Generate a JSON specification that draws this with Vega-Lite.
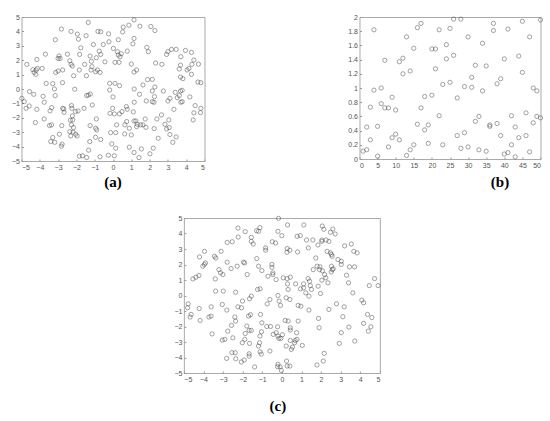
{
  "$schema": "https://vega.github.io/schema/vega-lite/v6.json",
  "background": "white",
  "padding": {"left": 11, "top": 12, "right": 5, "bottom": 5},
  "config": {
    "view": {"stroke": "#aaaaaa", "strokeWidth": 1},
    "axis": {"grid": false, "domain": false, "tickColor": "#999999", "tickSize": -2, "labelPadding": 4, "labelFont": "Liberation Sans", "labelFontSize": 7, "labelColor": "#555555", "title": null},
    "point": {"shape": "circle", "filled": false, "size": 18, "strokeWidth": 0.7, "color": "#444444"},
    "title": {"font": "Liberation Serif", "fontSize": 15, "fontWeight": "bold", "color": "#000000", "orient": "bottom", "frame": "group", "anchor": "middle"}
  },
  "datasets": {
    "a": [
      {"x": -1.35, "y": 4.62}, {"x": 1.15, "y": 4.80}, {"x": 1.47, "y": 4.36}, {"x": 2.07, "y": 4.34}, {"x": 2.29, "y": 4.06},
      {"x": 0.56, "y": 4.30}, {"x": 0.87, "y": 4.43}, {"x": 0.53, "y": 3.97}, {"x": -2.82, "y": 4.16}, {"x": -2.29, "y": 4.00},
      {"x": -1.95, "y": 3.81}, {"x": -1.89, "y": 3.46}, {"x": -1.47, "y": 3.70}, {"x": -0.82, "y": 4.00}, {"x": -0.67, "y": 3.97},
      {"x": -0.24, "y": 3.83}, {"x": -3.15, "y": 3.42}, {"x": -1.07, "y": 3.09}, {"x": -0.53, "y": 3.09}, {"x": -0.22, "y": 3.28},
      {"x": 0.29, "y": 3.42}, {"x": 1.15, "y": 3.51}, {"x": 1.09, "y": 3.14}, {"x": 0.78, "y": 2.63}, {"x": 1.85, "y": 2.89},
      {"x": 1.93, "y": 2.59}, {"x": 0.02, "y": 2.82}, {"x": -0.75, "y": 2.63}, {"x": -1.25, "y": 2.29}, {"x": -1.76, "y": 2.86},
      {"x": -1.82, "y": 2.40}, {"x": -2.49, "y": 2.42}, {"x": -3.69, "y": 2.42}, {"x": -4.16, "y": 2.05}, {"x": -2.95, "y": 2.29},
      {"x": -3.00, "y": 2.12}, {"x": -2.89, "y": 2.12}, {"x": -2.36, "y": 1.96}, {"x": -2.29, "y": 1.71}, {"x": -2.22, "y": 1.59},
      {"x": -1.55, "y": 1.71}, {"x": -1.18, "y": 1.92}, {"x": -1.15, "y": 1.55}, {"x": -1.20, "y": 1.32}, {"x": -0.91, "y": 2.17},
      {"x": -0.67, "y": 2.40}, {"x": -0.44, "y": 1.89}, {"x": 0.24, "y": 2.59}, {"x": 0.29, "y": 2.36}, {"x": 0.45, "y": 2.45},
      {"x": 0.38, "y": 2.24}, {"x": 0.11, "y": 1.85}, {"x": 0.33, "y": 1.85}, {"x": 1.00, "y": 1.73}, {"x": 1.15, "y": 1.18},
      {"x": 1.29, "y": 1.32}, {"x": 2.33, "y": 1.80}, {"x": 2.93, "y": 2.40}, {"x": 3.00, "y": 2.59}, {"x": 3.20, "y": 2.75},
      {"x": 3.45, "y": 2.75}, {"x": 3.96, "y": 2.68}, {"x": 4.29, "y": 2.54}, {"x": 3.71, "y": 2.24}, {"x": 3.69, "y": 1.66},
      {"x": 3.62, "y": 1.39}, {"x": 4.05, "y": 1.32}, {"x": 4.15, "y": 1.43}, {"x": 4.31, "y": 1.71}, {"x": 4.42, "y": 2.01},
      {"x": 4.67, "y": 1.73}, {"x": 2.67, "y": 1.71}, {"x": -4.71, "y": 1.71}, {"x": -4.38, "y": 1.34}, {"x": -4.31, "y": 1.15},
      {"x": -4.20, "y": 1.32}, {"x": -4.13, "y": 1.43}, {"x": -4.22, "y": 1.02}, {"x": -3.87, "y": 1.43}, {"x": -3.13, "y": 1.15},
      {"x": -3.00, "y": 1.25}, {"x": -2.75, "y": 1.32}, {"x": -1.84, "y": 1.32}, {"x": -2.15, "y": 0.92}, {"x": -1.45, "y": 0.92},
      {"x": -0.95, "y": 1.20}, {"x": -0.85, "y": 1.32}, {"x": -0.71, "y": 1.15}, {"x": 4.29, "y": 1.02}, {"x": 3.69, "y": 0.83},
      {"x": 3.82, "y": 0.72}, {"x": 4.64, "y": 0.48}, {"x": 4.80, "y": 0.44}, {"x": -3.65, "y": 0.39}, {"x": -3.29, "y": 0.37},
      {"x": -2.76, "y": 0.44}, {"x": -3.20, "y": 0.00}, {"x": -3.16, "y": -0.46}, {"x": -3.82, "y": -0.51}, {"x": -3.76, "y": -0.92},
      {"x": -4.56, "y": -0.18}, {"x": -4.33, "y": -0.37}, {"x": -4.98, "y": -0.65}, {"x": -4.85, "y": -0.88}, {"x": -4.75, "y": -1.34},
      {"x": -4.58, "y": -1.18}, {"x": -4.16, "y": -1.41}, {"x": -2.09, "y": -0.02}, {"x": -1.35, "y": -0.42}, {"x": -1.44, "y": -0.46},
      {"x": -1.24, "y": -0.35}, {"x": -1.13, "y": -1.11}, {"x": -0.18, "y": 0.39}, {"x": 0.11, "y": 0.39}, {"x": 0.36, "y": 0.23},
      {"x": -0.18, "y": -0.07}, {"x": 0.00, "y": -0.55}, {"x": 1.64, "y": 0.28}, {"x": 1.89, "y": 0.65}, {"x": 2.15, "y": 0.67},
      {"x": 2.29, "y": 0.14}, {"x": 2.15, "y": -0.14}, {"x": 2.75, "y": -0.14}, {"x": 2.27, "y": -0.53}, {"x": 2.15, "y": -0.88},
      {"x": 2.24, "y": -0.92}, {"x": 1.82, "y": -0.83}, {"x": 1.45, "y": -0.37}, {"x": 1.16, "y": 0.00}, {"x": 1.16, "y": -0.92},
      {"x": 3.40, "y": -0.23}, {"x": 3.69, "y": -0.14}, {"x": 3.78, "y": -0.09}, {"x": 3.51, "y": -0.60}, {"x": 3.62, "y": -0.46},
      {"x": 3.78, "y": -0.88}, {"x": 3.71, "y": -0.92}, {"x": 4.20, "y": -0.55}, {"x": 3.11, "y": -0.65}, {"x": 3.00, "y": -0.83},
      {"x": -3.76, "y": -2.08}, {"x": -3.35, "y": -1.29}, {"x": -3.44, "y": -1.52}, {"x": -2.75, "y": -1.34}, {"x": -2.69, "y": -1.39},
      {"x": -2.67, "y": -1.62}, {"x": -2.27, "y": -1.15}, {"x": -2.25, "y": -1.34}, {"x": -2.05, "y": -1.57}, {"x": -1.91, "y": -1.52},
      {"x": -2.22, "y": -1.87}, {"x": -2.33, "y": -2.17}, {"x": -2.20, "y": -2.15}, {"x": -2.27, "y": -2.49}, {"x": -2.16, "y": -2.68},
      {"x": -1.58, "y": -1.34}, {"x": -3.47, "y": -2.54}, {"x": -3.36, "y": -2.49}, {"x": -4.24, "y": -2.33}, {"x": -2.80, "y": -2.54},
      {"x": -0.91, "y": -2.08}, {"x": -1.25, "y": -2.54}, {"x": -0.95, "y": -2.73}, {"x": -0.16, "y": -1.69}, {"x": -0.02, "y": -1.34},
      {"x": 0.07, "y": -1.73}, {"x": 0.35, "y": -1.73}, {"x": 0.49, "y": -1.57}, {"x": 0.73, "y": -1.22}, {"x": 0.78, "y": -1.41},
      {"x": 1.11, "y": -1.59}, {"x": 1.25, "y": -2.22}, {"x": 1.15, "y": -2.22}, {"x": 1.33, "y": -2.45}, {"x": 1.29, "y": -2.61},
      {"x": 0.75, "y": -2.26}, {"x": 0.65, "y": -2.49}, {"x": 0.89, "y": -2.73}, {"x": 0.20, "y": -2.49}, {"x": 1.00, "y": -3.19},
      {"x": 1.51, "y": -2.49}, {"x": 1.76, "y": -2.08}, {"x": 1.64, "y": -2.49}, {"x": 1.80, "y": -2.66}, {"x": 2.40, "y": -2.08},
      {"x": 2.65, "y": -1.80}, {"x": 2.84, "y": -2.45}, {"x": 3.05, "y": -2.15}, {"x": 3.33, "y": -1.41}, {"x": 4.49, "y": -1.15},
      {"x": 4.42, "y": -1.66}, {"x": 4.80, "y": -1.34}, {"x": 4.78, "y": -1.64}, {"x": 4.38, "y": -2.15}, {"x": 3.07, "y": -2.68},
      {"x": 2.93, "y": -2.77}, {"x": 2.25, "y": -2.75}, {"x": -3.40, "y": -3.65}, {"x": -3.29, "y": -3.37}, {"x": -3.18, "y": -3.70},
      {"x": -2.93, "y": -3.14}, {"x": -2.78, "y": -3.83}, {"x": -2.82, "y": -3.97}, {"x": -2.36, "y": -2.96}, {"x": -2.31, "y": -3.26},
      {"x": -2.18, "y": -3.00}, {"x": -2.04, "y": -3.14}, {"x": -1.96, "y": -3.26}, {"x": -1.27, "y": -3.65}, {"x": -1.33, "y": -4.25},
      {"x": -1.84, "y": -4.67}, {"x": -1.67, "y": -4.64}, {"x": -1.44, "y": -4.76}, {"x": -0.71, "y": -4.71}, {"x": -0.25, "y": -4.60},
      {"x": 0.07, "y": -4.64}, {"x": -0.13, "y": -3.03}, {"x": 0.15, "y": -3.03}, {"x": -0.07, "y": -3.81}, {"x": 0.15, "y": -4.11},
      {"x": 0.64, "y": -3.12}, {"x": 0.89, "y": -4.04}, {"x": 1.15, "y": -4.41}, {"x": 1.42, "y": -4.76}, {"x": 1.55, "y": -4.16},
      {"x": 2.02, "y": -4.50}, {"x": 2.20, "y": -4.11}, {"x": 2.47, "y": -3.42}, {"x": 3.11, "y": -3.16}, {"x": 3.27, "y": -3.70},
      {"x": 3.45, "y": -3.33}, {"x": -0.89, "y": -2.84}, {"x": -0.95, "y": -3.35}, {"x": -0.67, "y": -3.51}
    ],
    "b": [
      {"x": 1, "y": 0.11}, {"x": 2, "y": 0.13}, {"x": 2, "y": 0.45}, {"x": 3, "y": 0.27}, {"x": 3, "y": 0.73},
      {"x": 4, "y": 1.82}, {"x": 4, "y": 0.97}, {"x": 5, "y": 0.46}, {"x": 5, "y": 0.04}, {"x": 6, "y": 1.00},
      {"x": 6, "y": 0.78}, {"x": 7, "y": 1.39}, {"x": 7, "y": 0.72}, {"x": 8, "y": 0.72}, {"x": 8, "y": 0.17},
      {"x": 9, "y": 0.87}, {"x": 9, "y": 0.30}, {"x": 10, "y": 0.69}, {"x": 10, "y": 0.35}, {"x": 11, "y": 1.37},
      {"x": 11, "y": 0.27}, {"x": 12, "y": 1.42}, {"x": 12, "y": 1.20}, {"x": 13, "y": 1.72}, {"x": 13, "y": 0.05},
      {"x": 14, "y": 1.24}, {"x": 14, "y": 0.13}, {"x": 15, "y": 1.56}, {"x": 15, "y": 0.20}, {"x": 16, "y": 1.85},
      {"x": 16, "y": 0.49}, {"x": 17, "y": 1.91}, {"x": 17, "y": 0.72}, {"x": 18, "y": 0.88}, {"x": 18, "y": 0.41},
      {"x": 19, "y": 0.48}, {"x": 19, "y": 0.22}, {"x": 20, "y": 1.55}, {"x": 20, "y": 0.90}, {"x": 21, "y": 1.55},
      {"x": 21, "y": 1.27}, {"x": 22, "y": 1.82}, {"x": 22, "y": 0.61}, {"x": 23, "y": 1.05}, {"x": 23, "y": 0.20},
      {"x": 24, "y": 1.61}, {"x": 24, "y": 1.41}, {"x": 25, "y": 1.84}, {"x": 25, "y": 1.08}, {"x": 26, "y": 1.97},
      {"x": 26, "y": 1.46}, {"x": 27, "y": 0.86}, {"x": 27, "y": 0.33}, {"x": 28, "y": 1.97}, {"x": 28, "y": 0.15},
      {"x": 29, "y": 1.02}, {"x": 29, "y": 0.37}, {"x": 30, "y": 1.72}, {"x": 30, "y": 0.17}, {"x": 31, "y": 1.15},
      {"x": 31, "y": 1.01}, {"x": 32, "y": 1.32}, {"x": 32, "y": 0.53}, {"x": 33, "y": 0.60}, {"x": 33, "y": 0.13},
      {"x": 34, "y": 1.63}, {"x": 34, "y": 0.96}, {"x": 35, "y": 1.31}, {"x": 35, "y": 0.11}, {"x": 36, "y": 0.46},
      {"x": 36, "y": 0.48}, {"x": 37, "y": 1.91}, {"x": 37, "y": 1.81}, {"x": 38, "y": 1.06}, {"x": 38, "y": 0.50},
      {"x": 39, "y": 1.13}, {"x": 39, "y": 0.33}, {"x": 40, "y": 1.41}, {"x": 40, "y": 0.07}, {"x": 41, "y": 1.83},
      {"x": 41, "y": 0.09}, {"x": 42, "y": 0.61}, {"x": 42, "y": 0.20}, {"x": 43, "y": 0.45}, {"x": 43, "y": 0.03},
      {"x": 44, "y": 1.45}, {"x": 44, "y": 0.30}, {"x": 45, "y": 1.94}, {"x": 45, "y": 1.22}, {"x": 46, "y": 0.65},
      {"x": 46, "y": 0.33}, {"x": 47, "y": 1.72}, {"x": 47, "y": 0.10}, {"x": 48, "y": 1.00}, {"x": 48, "y": 0.51},
      {"x": 49, "y": 0.96}, {"x": 49, "y": 0.60}, {"x": 50, "y": 1.96}, {"x": 50, "y": 0.58}
    ],
    "c": [
      {"x": -0.17, "y": 4.98}, {"x": 0.29, "y": 4.55}, {"x": 1.12, "y": 4.55}, {"x": 2.06, "y": 4.48}, {"x": 2.14, "y": 4.27},
      {"x": 2.60, "y": 4.29}, {"x": 2.48, "y": 4.08}, {"x": 2.72, "y": 3.97}, {"x": -1.12, "y": 4.38}, {"x": -1.29, "y": 4.18},
      {"x": -1.19, "y": 4.14}, {"x": -2.24, "y": 4.35}, {"x": -1.87, "y": 4.12}, {"x": -2.23, "y": 3.77}, {"x": -1.56, "y": 3.75},
      {"x": -1.56, "y": 3.49}, {"x": -1.46, "y": 3.32}, {"x": -2.79, "y": 3.43}, {"x": -2.53, "y": 3.47}, {"x": -0.20, "y": 4.14},
      {"x": 0.00, "y": 3.86}, {"x": -0.49, "y": 3.47}, {"x": -0.32, "y": 3.39}, {"x": 0.78, "y": 3.82}, {"x": 0.94, "y": 3.86},
      {"x": 1.26, "y": 3.58}, {"x": 1.58, "y": 3.58}, {"x": 2.04, "y": 3.58}, {"x": 2.26, "y": 3.58}, {"x": 2.40, "y": 3.49},
      {"x": 2.04, "y": 3.49}, {"x": 3.54, "y": 3.32}, {"x": 1.84, "y": 3.26}, {"x": 3.20, "y": 3.20},
      {"x": -0.83, "y": 3.07}, {"x": -0.83, "y": 2.92}, {"x": 0.27, "y": 3.03}, {"x": 0.41, "y": 2.92}, {"x": 0.26, "y": 2.79},
      {"x": 0.80, "y": 2.81}, {"x": 1.35, "y": 3.07}, {"x": 2.31, "y": 2.85}, {"x": 2.48, "y": 2.75}, {"x": 2.53, "y": 2.64},
      {"x": 2.57, "y": 2.53}, {"x": 2.86, "y": 2.32}, {"x": 3.03, "y": 2.21}, {"x": 3.03, "y": 2.00}, {"x": 3.67, "y": 2.85},
      {"x": 3.84, "y": 2.75}, {"x": -3.95, "y": 2.85}, {"x": -3.10, "y": 2.85}, {"x": -3.44, "y": 2.53}, {"x": -3.37, "y": 2.42},
      {"x": -3.90, "y": 2.10}, {"x": -3.95, "y": 2.00}, {"x": -4.20, "y": 2.49}, {"x": -4.03, "y": 1.89}, {"x": -2.79, "y": 2.15},
      {"x": -2.28, "y": 1.89}, {"x": -2.59, "y": 1.74}, {"x": -1.96, "y": 2.15}, {"x": -1.90, "y": 2.10}, {"x": -1.28, "y": 2.38},
      {"x": -1.19, "y": 1.89}, {"x": -1.02, "y": 1.61}, {"x": -0.51, "y": 2.00}, {"x": -0.51, "y": 1.82}, {"x": -0.46, "y": 1.46},
      {"x": -0.46, "y": 1.35}, {"x": -0.71, "y": 1.24}, {"x": -0.29, "y": 1.03}, {"x": -3.21, "y": 1.67}, {"x": -3.13, "y": 1.46},
      {"x": -3.01, "y": 1.35}, {"x": -3.40, "y": 1.07}, {"x": -4.54, "y": 1.07}, {"x": -4.39, "y": 1.18}, {"x": -4.23, "y": 1.29},
      {"x": -1.77, "y": 1.35}, {"x": -1.24, "y": 0.39}, {"x": -1.11, "y": 0.43}, {"x": -1.56, "y": -0.04}, {"x": -1.65, "y": -0.21},
      {"x": -2.36, "y": 0.21}, {"x": -2.99, "y": 0.28}, {"x": -3.38, "y": 0.28}, {"x": 0.07, "y": 1.14}, {"x": 0.27, "y": 1.09},
      {"x": 0.43, "y": 1.18}, {"x": 0.29, "y": 0.75}, {"x": 0.32, "y": 0.39}, {"x": 0.70, "y": 0.75}, {"x": 1.11, "y": 0.75},
      {"x": 1.11, "y": 0.49}, {"x": 0.95, "y": 0.43}, {"x": 1.34, "y": 1.09}, {"x": 1.41, "y": 0.92}, {"x": 1.45, "y": 0.64},
      {"x": 1.51, "y": 0.39}, {"x": 1.22, "y": 0.17}, {"x": 1.38, "y": -0.04}, {"x": 1.73, "y": 2.42}, {"x": 1.80, "y": 1.89},
      {"x": 1.60, "y": 1.67}, {"x": 1.92, "y": 1.67}, {"x": 1.94, "y": 1.85}, {"x": 2.07, "y": 1.59}, {"x": 2.18, "y": 1.35},
      {"x": 2.24, "y": 1.14}, {"x": 2.04, "y": 0.99}, {"x": 1.85, "y": 0.60}, {"x": 1.97, "y": 0.13}, {"x": 2.35, "y": 0.82},
      {"x": 2.53, "y": 1.89}, {"x": 2.57, "y": 1.67}, {"x": 2.52, "y": 1.52}, {"x": 2.62, "y": 1.72}, {"x": 3.30, "y": 1.31},
      {"x": 3.45, "y": 1.85}, {"x": 3.71, "y": 1.85}, {"x": 3.40, "y": 0.82}, {"x": 3.62, "y": 0.17}, {"x": 4.46, "y": 0.64},
      {"x": 4.73, "y": 1.09}, {"x": 4.91, "y": 0.64}, {"x": -0.14, "y": -0.36}, {"x": -0.07, "y": -0.64}, {"x": -0.20, "y": 0.00},
      {"x": -0.61, "y": -0.26}, {"x": -0.75, "y": -0.54}, {"x": 0.22, "y": -0.15}, {"x": 0.41, "y": -0.26}, {"x": 0.83, "y": -0.64},
      {"x": 0.97, "y": -0.69}, {"x": 1.38, "y": -0.94}, {"x": 2.40, "y": -0.90}, {"x": 2.79, "y": -0.54}, {"x": 3.18, "y": -0.73},
      {"x": 3.11, "y": -1.37}, {"x": 3.42, "y": -2.04}, {"x": 3.03, "y": -2.40}, {"x": 2.93, "y": -3.09}, {"x": 3.72, "y": -2.94},
      {"x": 4.08, "y": -0.30}, {"x": 4.17, "y": -0.47}, {"x": 4.37, "y": -1.22}, {"x": 4.59, "y": -1.42}, {"x": 4.17, "y": -1.80},
      {"x": 4.54, "y": -2.02}, {"x": 4.41, "y": -2.30}, {"x": -4.78, "y": -0.54}, {"x": -4.81, "y": -0.79}, {"x": -4.63, "y": -1.22},
      {"x": -4.68, "y": -1.39}, {"x": -4.22, "y": -0.84}, {"x": -4.17, "y": -1.61}, {"x": -3.61, "y": -0.73}, {"x": -3.72, "y": -1.39},
      {"x": -3.61, "y": -1.33}, {"x": -3.56, "y": -2.48}, {"x": -3.04, "y": -0.58}, {"x": -2.81, "y": -0.94}, {"x": -2.24, "y": -0.73},
      {"x": -2.06, "y": -0.79}, {"x": -2.01, "y": -0.36}, {"x": -2.40, "y": -1.39}, {"x": -2.36, "y": -1.65}, {"x": -2.57, "y": -1.93},
      {"x": -2.76, "y": -2.30}, {"x": -2.50, "y": -2.73}, {"x": -3.04, "y": -2.88}, {"x": -2.91, "y": -2.83}, {"x": -1.70, "y": -1.33},
      {"x": -1.60, "y": -1.24}, {"x": -1.79, "y": -1.97}, {"x": -1.67, "y": -2.25}, {"x": -1.56, "y": -2.25}, {"x": -1.87, "y": -2.45},
      {"x": -2.02, "y": -3.05}, {"x": -1.65, "y": -3.09}, {"x": -1.89, "y": -2.83}, {"x": -1.09, "y": -1.22}, {"x": -1.02, "y": -1.76},
      {"x": -1.04, "y": -2.34}, {"x": -1.12, "y": -2.62}, {"x": -1.14, "y": -3.05}, {"x": -1.19, "y": -3.26}, {"x": -1.11, "y": -3.63},
      {"x": -1.05, "y": -3.78}, {"x": -1.67, "y": -3.76}, {"x": -1.67, "y": -3.91}, {"x": -0.77, "y": -2.00}, {"x": -0.58, "y": -2.00},
      {"x": -0.44, "y": -2.51}, {"x": -0.29, "y": -2.40}, {"x": -0.22, "y": -2.02}, {"x": -0.20, "y": -2.62}, {"x": -0.15, "y": -2.77},
      {"x": -0.05, "y": -2.77}, {"x": 0.03, "y": -2.53}, {"x": 0.17, "y": -1.61}, {"x": 0.32, "y": -1.65}, {"x": 0.43, "y": -2.08},
      {"x": 0.43, "y": -2.23}, {"x": 0.75, "y": -2.40}, {"x": 0.43, "y": -2.90}, {"x": 0.54, "y": -3.33}, {"x": 0.48, "y": -3.48},
      {"x": 0.22, "y": -3.26}, {"x": 0.68, "y": -2.90}, {"x": 0.65, "y": -3.05}, {"x": 0.77, "y": -2.83}, {"x": 1.04, "y": -3.22},
      {"x": 0.83, "y": -1.65}, {"x": 1.87, "y": -1.48}, {"x": 1.90, "y": -2.08}, {"x": -0.61, "y": -3.58}, {"x": -1.39, "y": -4.61},
      {"x": -2.07, "y": -4.29}, {"x": -1.92, "y": -4.16}, {"x": -2.35, "y": -4.08}, {"x": -2.38, "y": -3.69}, {"x": -2.82, "y": -4.06},
      {"x": -2.55, "y": -3.69}, {"x": -0.20, "y": -4.44}, {"x": -0.22, "y": -4.59}, {"x": -0.09, "y": -4.61}, {"x": -0.03, "y": -4.83},
      {"x": 0.24, "y": -4.23}, {"x": 0.27, "y": -4.55}, {"x": 0.41, "y": -4.55}, {"x": 2.16, "y": -3.73}, {"x": 2.11, "y": -4.23},
      {"x": 1.79, "y": -4.48}
    ]
  },
  "vconcat": [
    {
      "hconcat": [
        {
          "width": 183, "height": 144,
          "title": {"text": "(a)", "offset": 5},
          "data": {"name": "a"},
          "mark": {"type": "point"},
          "encoding": {
            "x": {"field": "x", "type": "quantitative", "scale": {"domain": [-5, 5], "nice": false, "zero": false}, "axis": {"values": [-5, -4, -3, -2, -1, 0, 1, 2, 3, 4, 5]}},
            "y": {"field": "y", "type": "quantitative", "scale": {"domain": [-5, 5], "nice": false, "zero": false}, "axis": {"values": [-5, -4, -3, -2, -1, 0, 1, 2, 3, 4, 5]}}
          }
        },
        {
          "width": 181, "height": 142,
          "title": {"text": "(b)", "offset": 7, "dx": 50},
          "data": {"name": "b"},
          "mark": {"type": "point"},
          "encoding": {
            "x": {"field": "x", "type": "quantitative", "scale": {"domain": [0, 50], "nice": false, "zero": false}, "axis": {"values": [0, 5, 10, 15, 20, 25, 30, 35, 40, 45, 50]}},
            "y": {"field": "y", "type": "quantitative", "scale": {"domain": [0, 2], "nice": false, "zero": false}, "axis": {"values": [0, 0.2, 0.4, 0.6, 0.8, 1, 1.2, 1.4, 1.6, 1.8, 2], "format": "~g"}}
          }
        }
      ],
      "spacing": 141
    },
    {
      "width": 196, "height": 155,
      "title": {"text": "(c)", "offset": 17, "dx": -4},
      "data": {"name": "c"},
      "mark": {"type": "point"},
      "encoding": {
        "x": {"field": "x", "type": "quantitative", "scale": {"domain": [-5, 5], "nice": false, "zero": false}, "axis": {"values": [-5, -4, -3, -2, -1, 0, 1, 2, 3, 4, 5]}},
        "y": {"field": "y", "type": "quantitative", "scale": {"domain": [-5, 5], "nice": false, "zero": false}, "axis": {"values": [-5, -4, -3, -2, -1, 0, 1, 2, 3, 4, 5]}}
      }
    }
  ],
  "spacing": 22,
  "center": true
}
